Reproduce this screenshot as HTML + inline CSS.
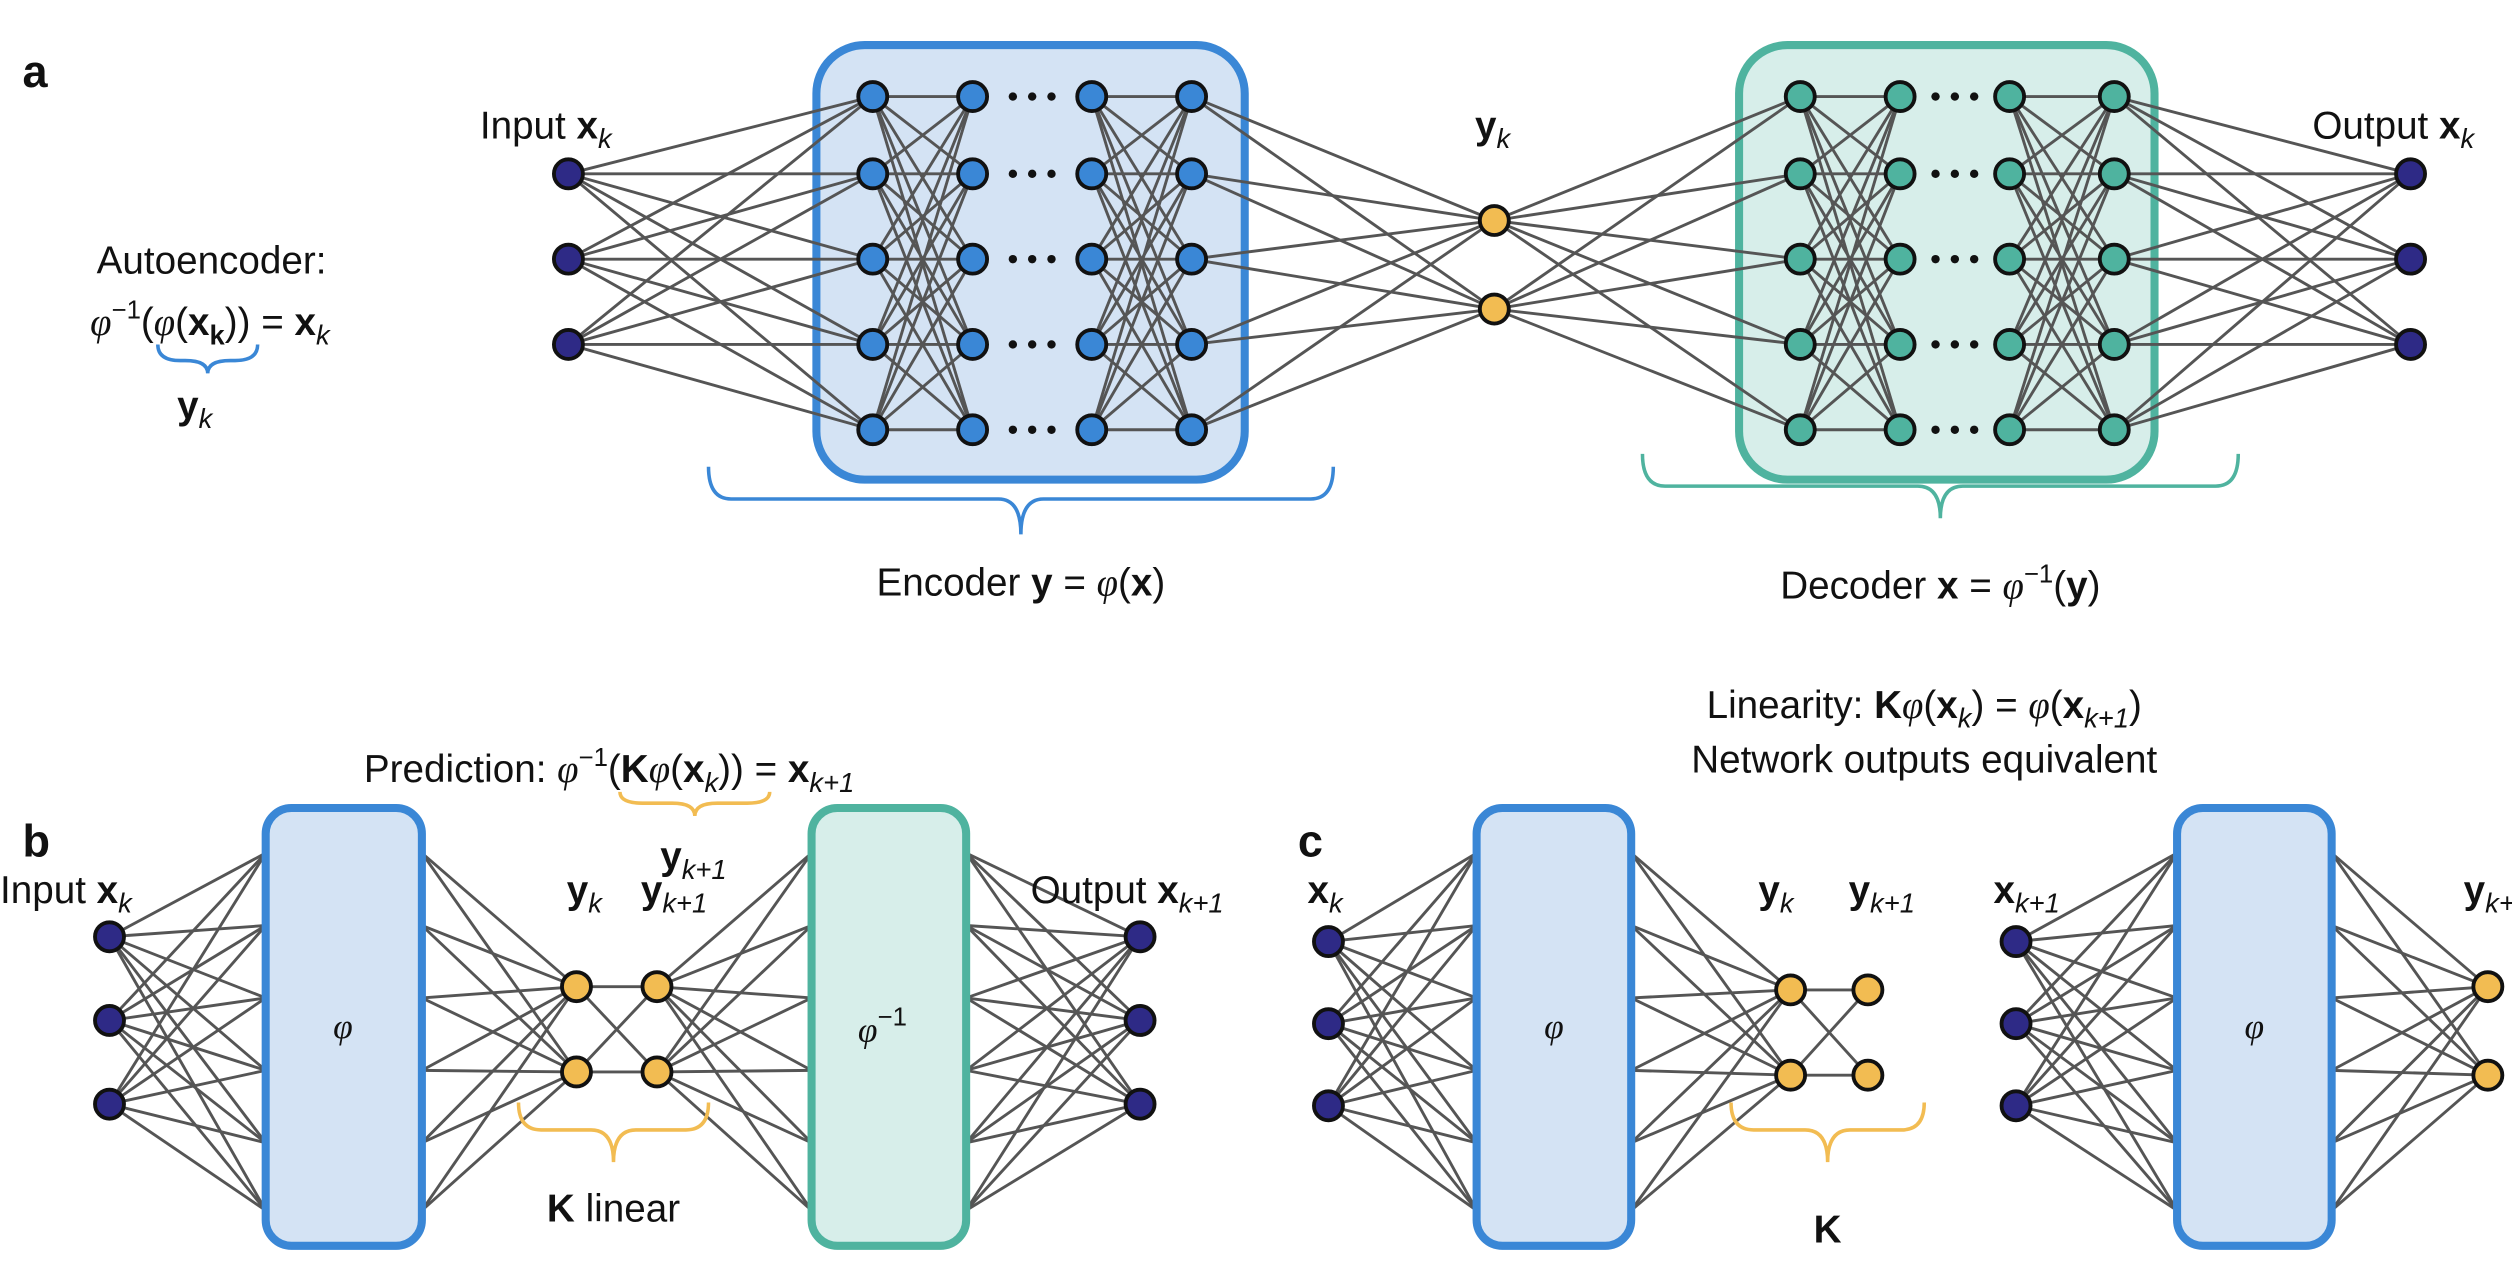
<!DOCTYPE html>
<html><head><meta charset="utf-8">
<style>
html,body{margin:0;padding:0;background:#fff;}
svg{display:block;}
text{font-family:"Liberation Sans",sans-serif;fill:#111;}
.b{font-weight:bold;}
.i{font-style:italic;}
.phi{font-family:"Liberation Serif",serif;font-style:italic;}
</style></head>
<body>
<svg id="s" width="2512" height="1278" viewBox="0 0 1560 794" preserveAspectRatio="none" xmlns="http://www.w3.org/2000/svg">
<g id="lines" stroke="#555" stroke-width="1.8" fill="none"></g>
<g id="boxes"></g>
<g id="lines2" stroke="#555" stroke-width="1.8" fill="none"></g>
<g id="nodes" stroke="#111" stroke-width="2.4"></g>
<g id="braces" fill="none" stroke-width="2.2"></g>

<text x="14" y="54" font-size="28" class="b">a</text>
<text x="14" y="532" font-size="28" class="b">b</text>
<text x="806" y="532" font-size="28" class="b">c</text>

<text x="298" y="86" font-size="24">Input <tspan class="b">x</tspan><tspan class="i" font-size="17" dy="6">k</tspan></text>
<text x="916" y="86" font-size="24"><tspan class="b">y</tspan><tspan class="i" font-size="17" dy="6">k</tspan></text>
<text x="1436" y="86" font-size="24">Output <tspan class="b">x</tspan><tspan class="i" font-size="17" dy="6">k</tspan></text>
<text x="60" y="170" font-size="24">Autoencoder:</text>
<text x="56" y="208" font-size="24"><tspan class="phi">φ</tspan><tspan font-size="16" dy="-10">−1</tspan><tspan dy="10">(</tspan><tspan class="phi">φ</tspan>(<tspan class="b">x</tspan><tspan class="b" font-size="17" dy="6">k</tspan><tspan dy="-6">)) = </tspan><tspan class="b">x</tspan><tspan class="i" font-size="17" dy="6">k</tspan></text>
<text x="110" y="260" font-size="24"><tspan class="b">y</tspan><tspan class="i" font-size="17" dy="6">k</tspan></text>
<text x="634" y="370" font-size="24" text-anchor="middle">Encoder  <tspan class="b">y</tspan> = <tspan class="phi">φ</tspan>(<tspan class="b">x</tspan>)</text>
<text x="1205" y="372" font-size="24" text-anchor="middle">Decoder  <tspan class="b">x</tspan> = <tspan class="phi">φ</tspan><tspan font-size="16" dy="-10">−1</tspan><tspan dy="10">(</tspan><tspan class="b">y</tspan>)</text>

<text x="226" y="486" font-size="24">Prediction: <tspan class="phi">φ</tspan><tspan font-size="16" dy="-10">−1</tspan><tspan dy="10">(</tspan><tspan class="b">K</tspan><tspan class="phi">φ</tspan>(<tspan class="b">x</tspan><tspan class="i" font-size="17" dy="6">k</tspan><tspan dy="-6">)) = </tspan><tspan class="b">x</tspan><tspan class="i" font-size="17" dy="6">k+1</tspan></text>
<text x="410" y="540" font-size="24"><tspan class="b">y</tspan><tspan class="i" font-size="17" dy="6">k+1</tspan></text>
<text x="0" y="561" font-size="24">Input <tspan class="b">x</tspan><tspan class="i" font-size="17" dy="6">k</tspan></text>
<text x="352" y="561" font-size="24"><tspan class="b">y</tspan><tspan class="i" font-size="17" dy="6">k</tspan></text>
<text x="398" y="561" font-size="24"><tspan class="b">y</tspan><tspan class="i" font-size="17" dy="6">k+1</tspan></text>
<text x="640" y="561" font-size="24">Output <tspan class="b">x</tspan><tspan class="i" font-size="17" dy="6">k+1</tspan></text>
<text x="213" y="645" font-size="22" class="phi" text-anchor="middle">φ</text>
<text x="548" y="647" font-size="22" text-anchor="middle"><tspan class="phi">φ</tspan><tspan font-size="16" dy="-10">−1</tspan></text>
<text x="381" y="759" font-size="24" text-anchor="middle"><tspan class="b">K</tspan> linear</text>

<text x="1195" y="446" font-size="24" text-anchor="middle">Linearity: <tspan class="b">K</tspan><tspan class="phi">φ</tspan>(<tspan class="b">x</tspan><tspan class="i" font-size="17" dy="6">k</tspan><tspan dy="-6">) = </tspan><tspan class="phi">φ</tspan>(<tspan class="b">x</tspan><tspan class="i" font-size="17" dy="6">k+1</tspan><tspan dy="-6">)</tspan></text>
<text x="1195" y="480" font-size="24" text-anchor="middle">Network outputs equivalent</text>
<text x="812" y="561" font-size="24"><tspan class="b">x</tspan><tspan class="i" font-size="17" dy="6">k</tspan></text>
<text x="1092" y="561" font-size="24"><tspan class="b">y</tspan><tspan class="i" font-size="17" dy="6">k</tspan></text>
<text x="1148" y="561" font-size="24"><tspan class="b">y</tspan><tspan class="i" font-size="17" dy="6">k+1</tspan></text>
<text x="1238" y="561" font-size="24"><tspan class="b">x</tspan><tspan class="i" font-size="17" dy="6">k+1</tspan></text>
<text x="1530" y="561" font-size="24"><tspan class="b">y</tspan><tspan class="i" font-size="17" dy="6">k+1</tspan></text>
<text x="965" y="645" font-size="22" class="phi" text-anchor="middle">φ</text>
<text x="1400" y="645" font-size="22" class="phi" text-anchor="middle">φ</text>
<text x="1135" y="772" font-size="24" text-anchor="middle" class="b">K</text>
</svg>
<script>
var NS="http://www.w3.org/2000/svg";
function el(p,t,a){var e=document.createElementNS(NS,t);for(var k in a)e.setAttribute(k,a[k]);document.getElementById(p).appendChild(e);return e;}
function L(g,x1,y1,x2,y2){el(g,"line",{x1:x1,y1:y1,x2:x2,y2:y2});}
function full(g,A,B){A.forEach(function(a){B.forEach(function(b){L(g,a[0],a[1],b[0],b[1]);});});}
function col(x,ys){return ys.map(function(y){return [x,y];});}
var NAVY="#2e2a86",BLUE="#3a87d6",TEAL="#4fb39f",OR="#f2bc52";
function nodes(pts,c,r){pts.forEach(function(p){el("nodes","circle",{cx:p[0],cy:p[1],r:r||9,fill:c});});}
function box(x,y,w,h,rx,stroke,fill,sw){el("boxes","rect",{x:x,y:y,width:w,height:h,rx:rx,fill:fill,stroke:stroke,"stroke-width":sw});}
function brace(x1,x2,y0,y1,y2,c){var m=(x1+x2)/2,r=14;
 el("braces","path",{stroke:c,d:"M"+x1+","+y0+" Q"+x1+","+y1+" "+(x1+r)+","+y1+" L"+(m-r)+","+y1+" Q"+m+","+y1+" "+m+","+y2+" Q"+m+","+y1+" "+(m+r)+","+y1+" L"+(x2-r)+","+y1+" Q"+x2+","+y1+" "+x2+","+y0});}

var R5=[60,108,161,214,267],R3=[108,161,214];
var inA=col(353,R3),e1=col(542,R5),e2=col(604,R5),e3=col(678,R5),e4=col(740,R5);
var yk=col(928,[137,192]);
var d1=col(1118,R5),d2=col(1180,R5),d3=col(1248,R5),d4=col(1313,R5),outA=col(1497,R3);
box(507,28,266,270,30,BLUE,"#d4e3f4",5);
box(1080,28,258,270,30,TEAL,"#d7eeea",5);
full("lines2",inA,e1);full("lines2",e1,e2);full("lines2",e3,e4);full("lines2",e4,yk);
full("lines2",yk,d1);full("lines2",d1,d2);full("lines2",d3,d4);full("lines2",d4,outA);
nodes(inA,NAVY);nodes(e1,BLUE);nodes(e2,BLUE);nodes(e3,BLUE);nodes(e4,BLUE);nodes(yk,OR);
nodes(d1,TEAL);nodes(d2,TEAL);nodes(d3,TEAL);nodes(d4,TEAL);nodes(outA,NAVY);
R5.forEach(function(y){[629,641,653].forEach(function(x){el("boxes","circle",{cx:x,cy:y,r:2.6,fill:"#111"});});
 [1202,1214,1226].forEach(function(x){el("boxes","circle",{cx:x,cy:y,r:2.6,fill:"#111"});});});
brace(440,828,290,310,332,BLUE);
brace(1020,1390,282,302,322,TEAL);
brace(98,160,214,224,232,BLUE);

var E=[530,575,620,665,710,752];
var inB=col(68,[582,634,686]);
box(165,502,97,272,16,BLUE,"#d4e3f4",5);
box(504,502,96,272,16,TEAL,"#d7eeea",5);
full("lines",inB,col(165,E));
var ykB=col(358,[613,666]),yk1B=col(408,[613,666]),outB=col(708,[582,634,686]);
full("lines",col(262,E),ykB);full("lines2",ykB,yk1B);full("lines",yk1B,col(504,E));full("lines",col(600,E),outB);
nodes(inB,NAVY);nodes(ykB,OR);nodes(yk1B,OR);nodes(outB,NAVY);
brace(322,440,685,702,722,OR);
brace(385,478,492,499,507,OR);

var inC=col(825,[585,636,687]);
box(917,502,96,272,16,BLUE,"#d4e3f4",5);
full("lines",inC,col(917,E));
var ykC=col(1112,[615,668]),yk1C=col(1160,[615,668]);
full("lines",col(1013,E),ykC);full("lines2",ykC,yk1C);
nodes(inC,NAVY);nodes(ykC,OR);nodes(yk1C,OR);
brace(1075,1195,685,702,722,OR);
var inC2=col(1252,[585,636,687]);
box(1352,502,96,272,16,BLUE,"#d4e3f4",5);
full("lines",inC2,col(1352,E));
var outC=col(1545,[613,668]);
full("lines",col(1448,E),outC);
nodes(inC2,NAVY);nodes(outC,OR);
</script>
</body></html>
